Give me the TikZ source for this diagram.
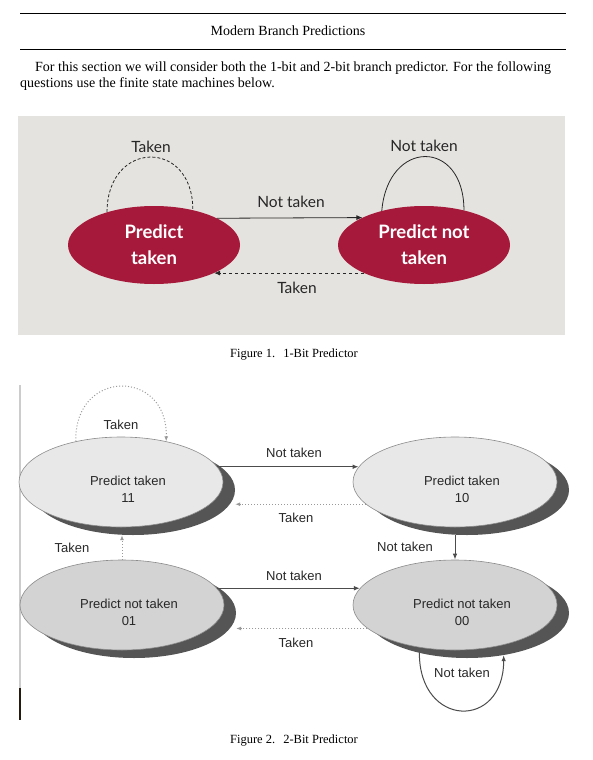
\documentclass[tikz,border=0pt]{standalone}
\usepackage{fontspec}
\setmainfont{Liberation Serif}
\newfontfamily\gillfont{Lato}
\newfontfamily\helvfont{Liberation Sans}
\usetikzlibrary{shapes.geometric,arrows.meta,calc}
\definecolor{crimson}{RGB}{166,25,58}
\definecolor{panelbg}{RGB}{229,227,223}
\definecolor{lightfill}{RGB}{232,232,232}
\definecolor{darkfill}{RGB}{211,211,211}
\definecolor{shadowc}{RGB}{85,85,85}
\definecolor{txtgray}{RGB}{40,40,40}
\begin{document}
\begin{tikzpicture}[x=1pt,y=-1pt,
  doctext/.style={inner sep=0pt,font=\fontsize{14}{16}\selectfont},
  capt/.style={inner sep=0pt,font=\fontsize{12.5}{14}\selectfont},
  redstate/.style={ellipse,fill=crimson,minimum width=172pt,minimum height=78pt,inner sep=0pt,
    text=white,align=center,font=\gillfont\bfseries\fontsize{18.5}{26}\selectfont},
  onelbl/.style={inner sep=0pt,font=\gillfont\fontsize{15.5}{17}\selectfont,text=black!85},
  oneline/.style={draw=black!85,line width=0.8pt},
  onetip/.style={-{Latex[length=6pt,width=5pt]}},
  graystate/.style={ellipse,draw=black!45,line width=0.6pt,minimum width=204pt,minimum height=90pt,inner sep=0pt},
  shadowst/.style={ellipse,fill=shadowc,minimum width=204pt,minimum height=90pt,inner sep=0pt},
  statetxt/.style={inner sep=0pt,align=center,text=txtgray,font=\helvfont\fontsize{13}{17}\selectfont},
  twolbl/.style={inner sep=0pt,text=txtgray,font=\helvfont\fontsize{13}{15}\selectfont},
  solidarr/.style={draw=black!70,line width=1pt,-{Latex[length=6pt,width=4.5pt]}},
  dotarr/.style={draw=black!40,line width=1pt,dotted,-{Latex[length=5pt,width=4pt]}}]
\useasboundingbox (0,0) rectangle (593,760);
\fill[white] (0,0) rectangle (593,760);
% header
\draw[line width=0.8pt] (20,13) -- (566,13);
\draw[line width=0.8pt] (20,49) -- (566,49);
\node[doctext,anchor=base] (title) at (288,36) {Modern Branch Predictions};
\node[doctext,anchor=base west] (para1) at (35,71) {For this section we will consider both the 1-bit and 2-bit branch predictor. For the following};
\node[doctext,anchor=base west] (para2) at (20,88) {questions use the finite state machines below.};
% figure 1
\fill[panelbg] (18,116) rectangle (565,335);
\node[redstate] (p1) at (154,245) {Predict\\taken};
\node[redstate] (p2) at (424,245) {Predict not\\taken};
\draw[oneline,onetip] (p1.23.6) -- (p2.156.4);
\draw[oneline,dashed,onetip] (p2.205) -- (p1.-25);
\draw[oneline,dashed,dash pattern=on 3pt off 2pt] (p1.145) .. controls +(0,-72) and +(0,-72) .. (p1.42);
\draw[oneline] (p2.141) .. controls +(6,-72) and +(0,-72) .. (p2.41);
\node[onelbl] (l1a) at (291,202) {Not taken};
\node[onelbl] (l1b) at (297,288) {Taken};
\node[onelbl] (l1c) at (151,147) {Taken};
\node[onelbl] (l1d) at (424,146) {Not taken};
\node[capt,anchor=base] (cap1) at (294,357) {Figure 1.\hspace{8pt}1-Bit Predictor};
% figure 2
\draw[black!20,line width=1.2pt] (20,385) -- (20,688);
\draw[black!80!brown,line width=1.5pt] (20,688) -- (20,720);
\node[shadowst] (s11) at (133,490) {};
\node[shadowst] (s10) at (467,490) {};
\node[shadowst] (s01) at (134,613) {};
\node[shadowst] (s00) at (467,613) {};
\node[graystate,fill=lightfill] (e11) at (121,482) {};
\node[graystate,fill=lightfill] (e10) at (455,482) {};
\node[graystate,fill=darkfill] (e01) at (122,605) {};
\node[graystate,fill=darkfill] (e00) at (455,605) {};
\node[statetxt] (t11) at ($(e11)+(7,7)$) {Predict taken\\11};
\node[statetxt] (t10) at ($(e10)+(7,7)$) {Predict taken\\10};
\node[statetxt] (t01) at ($(e01)+(7,7)$) {Predict not taken\\01};
\node[statetxt] (t00) at ($(e00)+(7,7)$) {Predict not taken\\00};
\draw[solidarr] (e11.9) -- (e10.171);
\draw[dotarr] (e10.194) -- (s11.east |- e10.194);
\draw[solidarr] (e01.10) -- (e00.170);
\draw[dotarr] (e00.195) -- (s01.east |- e00.195);
\draw[solidarr] (e10.south |- s10.south) -- (e00.north);
\draw[dotarr] (e01.north) -- (e01.north |- s11.south);
\draw[dotarr] (e11.138) .. controls +(-2,-73) and +(2,-73) .. (e11.42);
\draw[solidarr] (s00.220) .. controls +(0,75) and +(0,75) .. (s00.311);
\node[twolbl] (l2a) at (294,453) {Not taken};
\node[twolbl] (l2b) at (296,518) {Taken};
\node[twolbl] (l2c) at (294,576) {Not taken};
\node[twolbl] (l2d) at (296,643) {Taken};
\node[twolbl] (l2e) at (72,548) {Taken};
\node[twolbl] (l2f) at (405,547) {Not taken};
\node[twolbl] (l2g) at (121,425) {Taken};
\node[twolbl] (l2h) at (462,673) {Not taken};
\node[capt,anchor=base] (cap2) at (294,743) {Figure 2.\hspace{8pt}2-Bit Predictor};
\end{tikzpicture}
\end{document}
